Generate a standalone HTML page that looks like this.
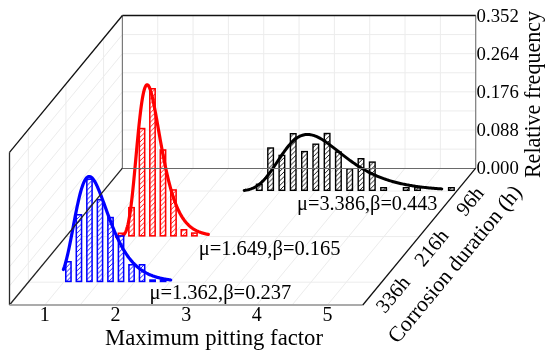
<!DOCTYPE html>
<html><head><meta charset="utf-8"><style>
html,body{margin:0;padding:0;background:#fff;}
svg{display:block;}
text{font-family:"Liberation Serif","Times New Roman",serif;fill:#000;}
</style></head><body>
<svg width="550" height="357" viewBox="0 0 550 357">
<defs>
<pattern id="hk" patternUnits="userSpaceOnUse" width="4.7" height="4.7"><rect width="4.7" height="4.7" fill="#fff"/><path d="M-1,5.7 L5.7,-1 M-5.7,5.7 L1,-1 M3.7,5.7 L10.4,-1" stroke="#000" stroke-width="0.9"/></pattern>
<pattern id="hr" patternUnits="userSpaceOnUse" width="4.7" height="4.7"><rect width="4.7" height="4.7" fill="#fff"/><path d="M-1,5.7 L5.7,-1 M-5.7,5.7 L1,-1 M3.7,5.7 L10.4,-1" stroke="#ff0000" stroke-width="0.9"/></pattern>
<pattern id="hb" patternUnits="userSpaceOnUse" width="4.7" height="4.7"><rect width="4.7" height="4.7" fill="#fff"/><path d="M-1,5.7 L5.7,-1 M-5.7,5.7 L1,-1 M3.7,5.7 L10.4,-1" stroke="#0000ff" stroke-width="0.9"/></pattern>
</defs>
<rect width="550" height="357" fill="#fff"/>
<line x1="157.73" y1="168.20" x2="157.73" y2="15.50" stroke="#ececec" stroke-width="1"/>
<line x1="44.83" y1="305.00" x2="157.73" y2="168.20" stroke="#ececec" stroke-width="1"/>
<line x1="193.06" y1="168.20" x2="193.06" y2="15.50" stroke="#ececec" stroke-width="1"/>
<line x1="80.16" y1="305.00" x2="193.06" y2="168.20" stroke="#ececec" stroke-width="1"/>
<line x1="228.39" y1="168.20" x2="228.39" y2="15.50" stroke="#ececec" stroke-width="1"/>
<line x1="115.49" y1="305.00" x2="228.39" y2="168.20" stroke="#ececec" stroke-width="1"/>
<line x1="263.72" y1="168.20" x2="263.72" y2="15.50" stroke="#ececec" stroke-width="1"/>
<line x1="150.82" y1="305.00" x2="263.72" y2="168.20" stroke="#ececec" stroke-width="1"/>
<line x1="299.05" y1="168.20" x2="299.05" y2="15.50" stroke="#ececec" stroke-width="1"/>
<line x1="186.15" y1="305.00" x2="299.05" y2="168.20" stroke="#ececec" stroke-width="1"/>
<line x1="334.38" y1="168.20" x2="334.38" y2="15.50" stroke="#ececec" stroke-width="1"/>
<line x1="221.48" y1="305.00" x2="334.38" y2="168.20" stroke="#ececec" stroke-width="1"/>
<line x1="369.71" y1="168.20" x2="369.71" y2="15.50" stroke="#ececec" stroke-width="1"/>
<line x1="256.81" y1="305.00" x2="369.71" y2="168.20" stroke="#ececec" stroke-width="1"/>
<line x1="405.04" y1="168.20" x2="405.04" y2="15.50" stroke="#ececec" stroke-width="1"/>
<line x1="292.14" y1="305.00" x2="405.04" y2="168.20" stroke="#ececec" stroke-width="1"/>
<line x1="440.37" y1="168.20" x2="440.37" y2="15.50" stroke="#ececec" stroke-width="1"/>
<line x1="327.47" y1="305.00" x2="440.37" y2="168.20" stroke="#ececec" stroke-width="1"/>
<line x1="122.40" y1="149.11" x2="475.70" y2="149.11" stroke="#ececec" stroke-width="1"/>
<line x1="9.50" y1="285.91" x2="122.40" y2="149.11" stroke="#ececec" stroke-width="1"/>
<line x1="122.40" y1="130.02" x2="475.70" y2="130.02" stroke="#ececec" stroke-width="1"/>
<line x1="9.50" y1="266.82" x2="122.40" y2="130.02" stroke="#ececec" stroke-width="1"/>
<line x1="122.40" y1="110.94" x2="475.70" y2="110.94" stroke="#ececec" stroke-width="1"/>
<line x1="9.50" y1="247.74" x2="122.40" y2="110.94" stroke="#ececec" stroke-width="1"/>
<line x1="122.40" y1="91.85" x2="475.70" y2="91.85" stroke="#ececec" stroke-width="1"/>
<line x1="9.50" y1="228.65" x2="122.40" y2="91.85" stroke="#ececec" stroke-width="1"/>
<line x1="122.40" y1="72.76" x2="475.70" y2="72.76" stroke="#ececec" stroke-width="1"/>
<line x1="9.50" y1="209.56" x2="122.40" y2="72.76" stroke="#ececec" stroke-width="1"/>
<line x1="122.40" y1="53.67" x2="475.70" y2="53.67" stroke="#ececec" stroke-width="1"/>
<line x1="9.50" y1="190.48" x2="122.40" y2="53.67" stroke="#ececec" stroke-width="1"/>
<line x1="122.40" y1="34.59" x2="475.70" y2="34.59" stroke="#ececec" stroke-width="1"/>
<line x1="9.50" y1="171.39" x2="122.40" y2="34.59" stroke="#ececec" stroke-width="1"/>
<line x1="28.32" y1="282.20" x2="28.32" y2="129.50" stroke="#ececec" stroke-width="1"/>
<line x1="28.32" y1="282.20" x2="381.62" y2="282.20" stroke="#ececec" stroke-width="1"/>
<line x1="65.95" y1="236.60" x2="65.95" y2="83.90" stroke="#ececec" stroke-width="1"/>
<line x1="65.95" y1="236.60" x2="419.25" y2="236.60" stroke="#ececec" stroke-width="1"/>
<line x1="103.58" y1="191.00" x2="103.58" y2="38.30" stroke="#ececec" stroke-width="1"/>
<line x1="103.58" y1="191.00" x2="456.88" y2="191.00" stroke="#ececec" stroke-width="1"/>
<line x1="122.40" y1="168.20" x2="122.40" y2="15.50" stroke="#7a7a7a" stroke-width="1.2"/>
<line x1="475.70" y1="168.20" x2="475.70" y2="15.50" stroke="#7a7a7a" stroke-width="1.2"/>
<rect x="256.50" y="184.30" width="5.60" height="6.00" fill="url(#hk)" stroke="#000" stroke-width="1.4"/>
<rect x="267.80" y="148.00" width="5.60" height="42.30" fill="url(#hk)" stroke="#000" stroke-width="1.4"/>
<rect x="279.10" y="155.40" width="5.60" height="34.90" fill="url(#hk)" stroke="#000" stroke-width="1.4"/>
<rect x="290.40" y="133.70" width="5.60" height="56.60" fill="url(#hk)" stroke="#000" stroke-width="1.4"/>
<rect x="301.70" y="151.60" width="5.60" height="38.70" fill="url(#hk)" stroke="#000" stroke-width="1.4"/>
<rect x="313.00" y="144.20" width="5.60" height="46.10" fill="url(#hk)" stroke="#000" stroke-width="1.4"/>
<rect x="324.30" y="133.50" width="5.60" height="56.80" fill="url(#hk)" stroke="#000" stroke-width="1.4"/>
<rect x="335.60" y="152.00" width="5.60" height="38.30" fill="url(#hk)" stroke="#000" stroke-width="1.4"/>
<rect x="346.90" y="168.80" width="5.60" height="21.50" fill="url(#hk)" stroke="#000" stroke-width="1.4"/>
<rect x="358.20" y="158.70" width="5.60" height="31.60" fill="url(#hk)" stroke="#000" stroke-width="1.4"/>
<rect x="369.50" y="162.10" width="5.60" height="28.20" fill="url(#hk)" stroke="#000" stroke-width="1.4"/>
<rect x="380.80" y="187.70" width="5.60" height="2.60" fill="url(#hk)" stroke="#000" stroke-width="1.4"/>
<rect x="403.40" y="187.70" width="5.60" height="2.60" fill="url(#hk)" stroke="#000" stroke-width="1.4"/>
<rect x="414.70" y="187.70" width="5.60" height="2.60" fill="url(#hk)" stroke="#000" stroke-width="1.4"/>
<rect x="448.60" y="187.70" width="5.60" height="2.60" fill="url(#hk)" stroke="#000" stroke-width="1.4"/>
<path d="M244.20,190.39 L245.18,190.26 L246.17,190.10 L247.16,189.91 L248.15,189.69 L249.14,189.44 L250.12,189.15 L251.11,188.82 L252.10,188.46 L253.09,188.04 L254.08,187.58 L255.06,187.07 L256.05,186.50 L257.04,185.88 L258.03,185.20 L259.01,184.47 L260.00,183.67 L260.99,182.82 L261.98,181.91 L262.97,180.94 L263.95,179.91 L264.94,178.83 L265.93,177.69 L266.92,176.49 L267.90,175.25 L268.89,173.97 L269.88,172.64 L270.87,171.27 L271.86,169.87 L272.84,168.44 L273.83,166.99 L274.82,165.52 L275.81,164.03 L276.80,162.53 L277.78,161.03 L278.77,159.54 L279.76,158.05 L280.75,156.57 L281.73,155.11 L282.72,153.68 L283.71,152.27 L284.70,150.90 L285.69,149.56 L286.67,148.26 L287.66,147.01 L288.65,145.80 L289.64,144.65 L290.62,143.55 L291.61,142.51 L292.60,141.53 L293.59,140.61 L294.58,139.75 L295.56,138.95 L296.55,138.22 L297.54,137.56 L298.53,136.96 L299.52,136.42 L300.50,135.96 L301.49,135.55 L302.48,135.21 L303.47,134.94 L304.45,134.73 L305.44,134.57 L306.43,134.48 L307.42,134.45 L308.41,134.47 L309.39,134.55 L310.38,134.68 L311.37,134.86 L312.36,135.09 L313.34,135.37 L314.33,135.69 L315.32,136.05 L316.31,136.45 L317.30,136.89 L318.28,137.37 L319.27,137.88 L320.26,138.42 L321.25,138.99 L322.24,139.58 L323.22,140.20 L324.21,140.85 L325.20,141.51 L326.19,142.19 L327.17,142.90 L328.16,143.61 L329.15,144.34 L330.14,145.08 L331.13,145.83 L332.11,146.59 L333.10,147.36 L334.09,148.13 L335.08,148.90 L336.06,149.68 L337.05,150.46 L338.04,151.25 L339.03,152.03 L340.02,152.81 L341.00,153.58 L341.99,154.36 L342.98,155.13 L343.97,155.89 L344.96,156.65 L345.94,157.40 L346.93,158.15 L347.92,158.89 L348.91,159.62 L349.89,160.34 L350.88,161.06 L351.87,161.76 L352.86,162.45 L353.85,163.14 L354.83,163.81 L355.82,164.48 L356.81,165.13 L357.80,165.77 L358.78,166.40 L359.77,167.02 L360.76,167.63 L361.75,168.23 L362.74,168.81 L363.72,169.39 L364.71,169.95 L365.70,170.50 L366.69,171.04 L367.68,171.57 L368.66,172.09 L369.65,172.60 L370.64,173.09 L371.63,173.58 L372.61,174.05 L373.60,174.51 L374.59,174.96 L375.58,175.41 L376.57,175.84 L377.55,176.26 L378.54,176.67 L379.53,177.07 L380.52,177.46 L381.50,177.84 L382.49,178.21 L383.48,178.57 L384.47,178.93 L385.46,179.27 L386.44,179.61 L387.43,179.93 L388.42,180.25 L389.41,180.56 L390.40,180.86 L391.38,181.15 L392.37,181.44 L393.36,181.72 L394.35,181.99 L395.33,182.25 L396.32,182.51 L397.31,182.76 L398.30,183.00 L399.29,183.23 L400.27,183.46 L401.26,183.68 L402.25,183.90 L403.24,184.11 L404.22,184.31 L405.21,184.51 L406.20,184.71 L407.19,184.89 L408.18,185.08 L409.16,185.25 L410.15,185.42 L411.14,185.59 L412.13,185.75 L413.12,185.91 L414.10,186.06 L415.09,186.21 L416.08,186.36 L417.07,186.50 L418.05,186.63 L419.04,186.76 L420.03,186.89 L421.02,187.02 L422.01,187.14 L422.99,187.25 L423.98,187.37 L424.97,187.48 L425.96,187.58 L426.94,187.69 L427.93,187.79 L428.92,187.89 L429.91,187.98 L430.90,188.07 L431.88,188.16 L432.87,188.25 L433.86,188.33 L434.85,188.41 L435.84,188.49 L436.82,188.57 L437.81,188.64 L438.80,188.72 L439.79,188.79 L440.77,188.85 L441.76,188.92" fill="none" stroke="#000" stroke-width="3.0" stroke-linejoin="round" stroke-linecap="round"/>
<rect x="118.38" y="233.28" width="5.35" height="2.55" fill="url(#hr)" stroke="#ff0000" stroke-width="1.55"/>
<rect x="128.85" y="207.68" width="5.35" height="28.15" fill="url(#hr)" stroke="#ff0000" stroke-width="1.55"/>
<rect x="139.34" y="128.57" width="5.35" height="107.25" fill="url(#hr)" stroke="#ff0000" stroke-width="1.55"/>
<rect x="149.81" y="88.78" width="5.35" height="147.05" fill="url(#hr)" stroke="#ff0000" stroke-width="1.55"/>
<rect x="160.29" y="149.97" width="5.35" height="85.85" fill="url(#hr)" stroke="#ff0000" stroke-width="1.55"/>
<rect x="170.78" y="189.97" width="5.35" height="45.85" fill="url(#hr)" stroke="#ff0000" stroke-width="1.55"/>
<rect x="181.25" y="229.78" width="5.35" height="6.05" fill="url(#hr)" stroke="#ff0000" stroke-width="1.55"/>
<rect x="191.73" y="233.08" width="5.35" height="2.75" fill="url(#hr)" stroke="#ff0000" stroke-width="1.55"/>
<path d="M116.47,236.59 L116.93,236.59 L117.39,236.59 L117.85,236.58 L118.31,236.57 L118.77,236.55 L119.23,236.52 L119.69,236.48 L120.15,236.43 L120.61,236.36 L121.06,236.27 L121.52,236.14 L121.98,235.97 L122.44,235.76 L122.90,235.49 L123.36,235.14 L123.82,234.72 L124.28,234.19 L124.74,233.55 L125.20,232.78 L125.66,231.87 L126.12,230.80 L126.58,229.55 L127.04,228.11 L127.49,226.46 L127.95,224.60 L128.41,222.51 L128.87,220.18 L129.33,217.60 L129.79,214.78 L130.25,211.71 L130.71,208.39 L131.17,204.84 L131.63,201.05 L132.09,197.05 L132.55,192.84 L133.01,188.45 L133.47,183.89 L133.92,179.20 L134.38,174.38 L134.84,169.47 L135.30,164.49 L135.76,159.48 L136.22,154.46 L136.68,149.45 L137.14,144.50 L137.60,139.61 L138.06,134.83 L138.52,130.17 L138.98,125.66 L139.44,121.31 L139.90,117.16 L140.35,113.21 L140.81,109.49 L141.27,106.01 L141.73,102.77 L142.19,99.79 L142.65,97.07 L143.11,94.63 L143.57,92.46 L144.03,90.56 L144.49,88.94 L144.95,87.60 L145.41,86.52 L145.87,85.70 L146.33,85.14 L146.79,84.84 L147.24,84.77 L147.70,84.94 L148.16,85.33 L148.62,85.94 L149.08,86.75 L149.54,87.75 L150.00,88.93 L150.46,90.28 L150.92,91.78 L151.38,93.43 L151.84,95.22 L152.30,97.12 L152.76,99.14 L153.22,101.26 L153.67,103.47 L154.13,105.76 L154.59,108.12 L155.05,110.54 L155.51,113.01 L155.97,115.53 L156.43,118.07 L156.89,120.65 L157.35,123.25 L157.81,125.86 L158.27,128.48 L158.73,131.10 L159.19,133.71 L159.65,136.32 L160.10,138.91 L160.56,141.48 L161.02,144.03 L161.48,146.56 L161.94,149.05 L162.40,151.52 L162.86,153.95 L163.32,156.34 L163.78,158.69 L164.24,161.00 L164.70,163.27 L165.16,165.50 L165.62,167.68 L166.08,169.81 L166.53,171.90 L166.99,173.95 L167.45,175.94 L167.91,177.89 L168.37,179.79 L168.83,181.64 L169.29,183.44 L169.75,185.20 L170.21,186.91 L170.67,188.58 L171.13,190.19 L171.59,191.76 L172.05,193.29 L172.51,194.77 L172.96,196.21 L173.42,197.61 L173.88,198.96 L174.34,200.28 L174.80,201.55 L175.26,202.78 L175.72,203.97 L176.18,205.13 L176.64,206.25 L177.10,207.33 L177.56,208.38 L178.02,209.39 L178.48,210.37 L178.94,211.32 L179.39,212.23 L179.85,213.12 L180.31,213.97 L180.77,214.80 L181.23,215.59 L181.69,216.36 L182.15,217.11 L182.61,217.82 L183.07,218.51 L183.53,219.18 L183.99,219.83 L184.45,220.45 L184.91,221.05 L185.37,221.63 L185.82,222.18 L186.28,222.72 L186.74,223.24 L187.20,223.74 L187.66,224.22 L188.12,224.68 L188.58,225.13 L189.04,225.56 L189.50,225.98 L189.96,226.38 L190.42,226.76 L190.88,227.13 L191.34,227.49 L191.80,227.83 L192.25,228.17 L192.71,228.49 L193.17,228.79 L193.63,229.09 L194.09,229.37 L194.55,229.65 L195.01,229.91 L195.47,230.17 L195.93,230.41 L196.39,230.65 L196.85,230.87 L197.31,231.09 L197.77,231.30 L198.23,231.50 L198.68,231.70 L199.14,231.89 L199.60,232.07 L200.06,232.24 L200.52,232.41 L200.98,232.57 L201.44,232.72 L201.90,232.87 L202.36,233.01 L202.82,233.15 L203.28,233.28 L203.74,233.41 L204.20,233.53 L204.66,233.65 L205.11,233.76 L205.57,233.87 L206.03,233.98 L206.49,234.08 L206.95,234.17 L207.41,234.27 L207.87,234.36 L208.33,234.44" fill="none" stroke="#ff0000" stroke-width="3.2" stroke-linejoin="round" stroke-linecap="round"/>
<rect x="65.78" y="261.77" width="5.25" height="19.65" fill="url(#hb)" stroke="#0000ff" stroke-width="1.55"/>
<rect x="76.30" y="214.78" width="5.25" height="66.65" fill="url(#hb)" stroke="#0000ff" stroke-width="1.55"/>
<rect x="86.83" y="179.18" width="5.25" height="102.25" fill="url(#hb)" stroke="#0000ff" stroke-width="1.55"/>
<rect x="97.35" y="199.68" width="5.25" height="81.75" fill="url(#hb)" stroke="#0000ff" stroke-width="1.55"/>
<rect x="107.88" y="217.58" width="5.25" height="63.85" fill="url(#hb)" stroke="#0000ff" stroke-width="1.55"/>
<rect x="118.40" y="236.08" width="5.25" height="45.35" fill="url(#hb)" stroke="#0000ff" stroke-width="1.55"/>
<rect x="128.93" y="264.77" width="5.25" height="16.65" fill="url(#hb)" stroke="#0000ff" stroke-width="1.55"/>
<rect x="139.45" y="264.77" width="5.25" height="16.65" fill="url(#hb)" stroke="#0000ff" stroke-width="1.55"/>
<rect x="149.97" y="280.07" width="5.25" height="1.35" fill="url(#hb)" stroke="#0000ff" stroke-width="1.55"/>
<rect x="160.50" y="280.07" width="5.25" height="1.35" fill="url(#hb)" stroke="#0000ff" stroke-width="1.55"/>
<path d="M63.43,269.57 L63.97,268.03 L64.51,266.38 L65.04,264.62 L65.58,262.74 L66.12,260.75 L66.65,258.65 L67.19,256.45 L67.73,254.15 L68.26,251.76 L68.80,249.29 L69.33,246.73 L69.87,244.11 L70.41,241.43 L70.94,238.69 L71.48,235.91 L72.02,233.10 L72.55,230.27 L73.09,227.43 L73.62,224.59 L74.16,221.76 L74.70,218.95 L75.23,216.17 L75.77,213.43 L76.31,210.74 L76.84,208.11 L77.38,205.54 L77.92,203.06 L78.45,200.66 L78.99,198.34 L79.52,196.13 L80.06,194.02 L80.60,192.02 L81.13,190.13 L81.67,188.35 L82.21,186.70 L82.74,185.17 L83.28,183.76 L83.81,182.48 L84.35,181.33 L84.89,180.30 L85.42,179.40 L85.96,178.62 L86.50,177.97 L87.03,177.44 L87.57,177.03 L88.10,176.73 L88.64,176.56 L89.18,176.49 L89.71,176.54 L90.25,176.69 L90.79,176.94 L91.32,177.29 L91.86,177.73 L92.40,178.26 L92.93,178.87 L93.47,179.57 L94.00,180.34 L94.54,181.19 L95.08,182.10 L95.61,183.08 L96.15,184.11 L96.69,185.20 L97.22,186.35 L97.76,187.53 L98.29,188.76 L98.83,190.03 L99.37,191.34 L99.90,192.68 L100.44,194.04 L100.98,195.43 L101.51,196.84 L102.05,198.27 L102.59,199.72 L103.12,201.18 L103.66,202.64 L104.19,204.12 L104.73,205.60 L105.27,207.08 L105.80,208.56 L106.34,210.04 L106.88,211.52 L107.41,212.99 L107.95,214.46 L108.48,215.91 L109.02,217.36 L109.56,218.79 L110.09,220.21 L110.63,221.62 L111.17,223.01 L111.70,224.39 L112.24,225.75 L112.78,227.09 L113.31,228.41 L113.85,229.72 L114.38,231.00 L114.92,232.26 L115.46,233.51 L115.99,234.73 L116.53,235.93 L117.07,237.11 L117.60,238.27 L118.14,239.41 L118.67,240.53 L119.21,241.62 L119.75,242.69 L120.28,243.74 L120.82,244.77 L121.36,245.78 L121.89,246.76 L122.43,247.72 L122.97,248.67 L123.50,249.59 L124.04,250.48 L124.57,251.36 L125.11,252.22 L125.65,253.06 L126.18,253.87 L126.72,254.67 L127.26,255.45 L127.79,256.21 L128.33,256.95 L128.86,257.67 L129.40,258.37 L129.94,259.06 L130.47,259.72 L131.01,260.37 L131.55,261.01 L132.08,261.62 L132.62,262.22 L133.15,262.81 L133.69,263.38 L134.23,263.93 L134.76,264.47 L135.30,264.99 L135.84,265.50 L136.37,265.99 L136.91,266.47 L137.45,266.94 L137.98,267.40 L138.52,267.84 L139.05,268.27 L139.59,268.69 L140.13,269.09 L140.66,269.49 L141.20,269.87 L141.74,270.24 L142.27,270.60 L142.81,270.95 L143.34,271.29 L143.88,271.62 L144.42,271.94 L144.95,272.26 L145.49,272.56 L146.03,272.85 L146.56,273.14 L147.10,273.41 L147.64,273.68 L148.17,273.94 L148.71,274.20 L149.24,274.44 L149.78,274.68 L150.32,274.91 L150.85,275.13 L151.39,275.35 L151.93,275.56 L152.46,275.77 L153.00,275.96 L153.53,276.16 L154.07,276.34 L154.61,276.52 L155.14,276.70 L155.68,276.87 L156.22,277.03 L156.75,277.19 L157.29,277.35 L157.83,277.50 L158.36,277.65 L158.90,277.79 L159.43,277.92 L159.97,278.06 L160.51,278.19 L161.04,278.31 L161.58,278.43 L162.12,278.55 L162.65,278.66 L163.19,278.77 L163.72,278.88 L164.26,278.98 L164.80,279.08 L165.33,279.18 L165.87,279.27 L166.41,279.37 L166.94,279.45 L167.48,279.54 L168.02,279.62 L168.55,279.70 L169.09,279.78 L169.62,279.86 L170.16,279.93 L170.70,280.00" fill="none" stroke="#0000ff" stroke-width="3.2" stroke-linejoin="round" stroke-linecap="round"/>
<line x1="9.50" y1="305.00" x2="9.50" y2="152.30" stroke="#2a2a2a" stroke-width="1.3"/>
<line x1="9.50" y1="152.30" x2="122.40" y2="15.50" stroke="#111" stroke-width="1.3"/>
<line x1="122.40" y1="15.50" x2="475.70" y2="15.50" stroke="#111" stroke-width="1.3"/>
<line x1="122.40" y1="168.50" x2="475.70" y2="168.50" stroke="#6a6a6a" stroke-width="1.15"/>
<line x1="9.50" y1="305.00" x2="122.40" y2="168.20" stroke="#222" stroke-width="1.3"/>
<line x1="9.50" y1="305.00" x2="362.80" y2="305.00" stroke="#ababab" stroke-width="2"/>
<line x1="362.80" y1="305.00" x2="475.70" y2="168.20" stroke="#111" stroke-width="1.3"/>
<text x="44.8" y="320.8" font-size="20" text-anchor="middle">1</text>
<text x="115.5" y="320.8" font-size="20" text-anchor="middle">2</text>
<text x="186.2" y="320.8" font-size="20" text-anchor="middle">3</text>
<text x="256.8" y="320.8" font-size="20" text-anchor="middle">4</text>
<text x="327.5" y="320.8" font-size="20" text-anchor="middle">5</text>
<text x="214" y="345" font-size="22.7" text-anchor="middle">Maximum pitting factor</text>
<text x="476.6" y="174.2" font-size="19.5" text-anchor="start" textLength="42.2" lengthAdjust="spacingAndGlyphs">0.000</text>
<text x="476.6" y="136.0" font-size="19.5" text-anchor="start" textLength="42.2" lengthAdjust="spacingAndGlyphs">0.088</text>
<text x="476.6" y="97.8" font-size="19.5" text-anchor="start" textLength="42.2" lengthAdjust="spacingAndGlyphs">0.176</text>
<text x="476.6" y="59.7" font-size="19.5" text-anchor="start" textLength="42.2" lengthAdjust="spacingAndGlyphs">0.264</text>
<text x="476.6" y="21.5" font-size="19.5" text-anchor="start" textLength="42.2" lengthAdjust="spacingAndGlyphs">0.352</text>
<text transform="translate(540,94.5) rotate(-90)" font-size="22.07" text-anchor="middle">Relative frequency</text>
<text transform="translate(469.7,201.1) rotate(-50.47)" font-size="20.4" text-anchor="middle" dy="6.8">96h</text>
<text transform="translate(431.3,247.6) rotate(-50.47)" font-size="20.4" text-anchor="middle" dy="6.8">216h</text>
<text transform="translate(392.7,294.3) rotate(-50.47)" font-size="20.4" text-anchor="middle" dy="6.8">336h</text>
<text transform="translate(454.8,264.1) rotate(-50.47)" font-size="21.9" text-anchor="middle" dy="7">Corrosion duration (h)</text>
<text x="149.4" y="298.5" font-size="20.5" text-anchor="start">μ=1.362,β=0.237</text>
<text x="198.7" y="254.6" font-size="20.5" text-anchor="start">μ=1.649,β=0.165</text>
<text x="297.1" y="209.9" font-size="20.3" text-anchor="start">μ=3.386,β=0.443</text>
</svg>
</body></html>
